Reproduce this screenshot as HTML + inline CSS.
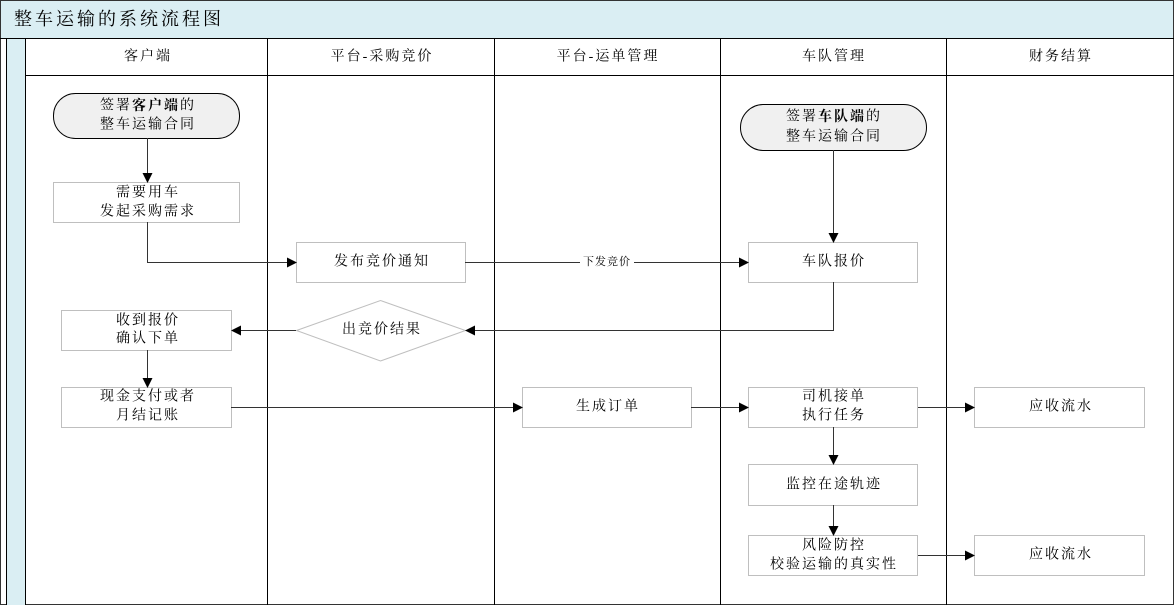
<!DOCTYPE html>
<html><head><meta charset="utf-8"><style>
html,body{margin:0;padding:0;background:#fff}
svg{display:block}
text{font-family:"Liberation Serif","Noto Serif CJK SC",serif;font-size:14px;fill:#000;text-anchor:middle;dominant-baseline:central;letter-spacing:2px}
</style></head><body>
<svg width="1174" height="605" viewBox="0 0 1174 605" xmlns="http://www.w3.org/2000/svg">
<defs><marker id="a" markerWidth="10" markerHeight="10" refX="9" refY="5" orient="auto" markerUnits="userSpaceOnUse"><path d="M0,0 L10,5 L0,10 z" fill="#000"/></marker></defs>
<rect x="0.5" y="0.5" width="1173" height="604" fill="#fff" stroke="#333"/>
<rect x="1" y="1" width="1172" height="37" fill="#daeef3"/>
<line x1="0" y1="38.5" x2="1174" y2="38.5" stroke="#000"/>
<text x="14" y="19" style="text-anchor:start;font-size:18px;letter-spacing:3px">整车运输的系统流程图</text>
<rect x="7" y="39" width="18" height="566" fill="#daeef3"/>
<line x1="6.5" y1="38" x2="6.5" y2="605" stroke="#000"/>
<line x1="25.5" y1="38" x2="25.5" y2="605" stroke="#000"/>
<line x1="25" y1="75.5" x2="1174" y2="75.5" stroke="#000"/>
<g stroke="#000"><line x1="267.5" y1="38" x2="267.5" y2="605"/><line x1="494.5" y1="38" x2="494.5" y2="605"/><line x1="720.5" y1="38" x2="720.5" y2="605"/><line x1="946.5" y1="38" x2="946.5" y2="605"/></g>
<text x="148" y="57">客户端</text><text x="382" y="57">平台-采购竞价</text><text x="608" y="57">平台-运单管理</text><text x="834" y="57">车队管理</text><text x="1061" y="57">财务结算</text>
<g fill="#fff" stroke="#bfbfbf">
<rect x="53.5" y="93.5" width="186" height="45" rx="22" fill="#f0f0f0" stroke="#000"/>
<rect x="740.5" y="104.5" width="186" height="46" rx="23" fill="#f0f0f0" stroke="#000"/>
<rect x="53.5" y="182.5" width="186" height="40"/>
<rect x="296.5" y="242.5" width="169" height="40"/>
<rect x="748.5" y="242.5" width="169" height="40"/>
<polygon points="296.5,330.5 380.5,300.5 465.5,330.5 380.5,361"/>
<rect x="61.5" y="310.5" width="170" height="40"/>
<rect x="61.5" y="387.5" width="170" height="40"/>
<rect x="522.5" y="387.5" width="169" height="40"/>
<rect x="748.5" y="387.5" width="169" height="40"/>
<rect x="974.5" y="387.5" width="170" height="40"/>
<rect x="748.5" y="464.5" width="169" height="41"/>
<rect x="748.5" y="535.5" width="169" height="40"/>
<rect x="974.5" y="535.5" width="170" height="40"/>
</g>
<g stroke="#333" fill="none" marker-end="url(#a)">
<path d="M147.5,138 V182"/>
<path d="M147.5,222 V262.5 H296"/>
<path d="M465,262.5 H748"/>
<path d="M833.5,150 V242"/>
<path d="M833.5,282 V330.5 H466"/>
<path d="M296,330.5 H232"/>
<path d="M147.5,350 V387"/>
<path d="M231,407.5 H522"/>
<path d="M691,407.5 H748"/>
<path d="M918,407.5 H974"/>
<path d="M833.5,427 V464"/>
<path d="M833.5,505 V535"/>
<path d="M918,555.5 H974"/>
</g>
<rect x="580" y="255" width="54" height="14" fill="#fff"/>
<text x="607" y="262" style="font-size:11px;letter-spacing:1px">下发竞价</text>
<text x="148" y="106">签署<tspan font-weight="bold">客户端</tspan>的</text><text x="148" y="125">整车运输合同</text>
<text x="834" y="117">签署<tspan font-weight="bold">车队端</tspan>的</text><text x="834" y="137">整车运输合同</text>
<text x="148" y="193">需要用车</text><text x="148" y="212">发起采购需求</text>
<text x="382" y="262">发布竞价通知</text>
<text x="834" y="262">车队报价</text>
<text x="382" y="330">出竞价结果</text>
<text x="148" y="321">收到报价</text><text x="148" y="339">确认下单</text>
<text x="148" y="397">现金支付或者</text><text x="148" y="416">月结记账</text>
<text x="608" y="407">生成订单</text>
<text x="834" y="397">司机接单</text><text x="834" y="416">执行任务</text>
<text x="1061" y="407">应收流水</text>
<text x="834" y="485">监控在途轨迹</text>
<text x="834" y="546">风险防控</text><text x="834" y="565">校验运输的真实性</text>
<text x="1061" y="555">应收流水</text>
</svg>
</body></html>
